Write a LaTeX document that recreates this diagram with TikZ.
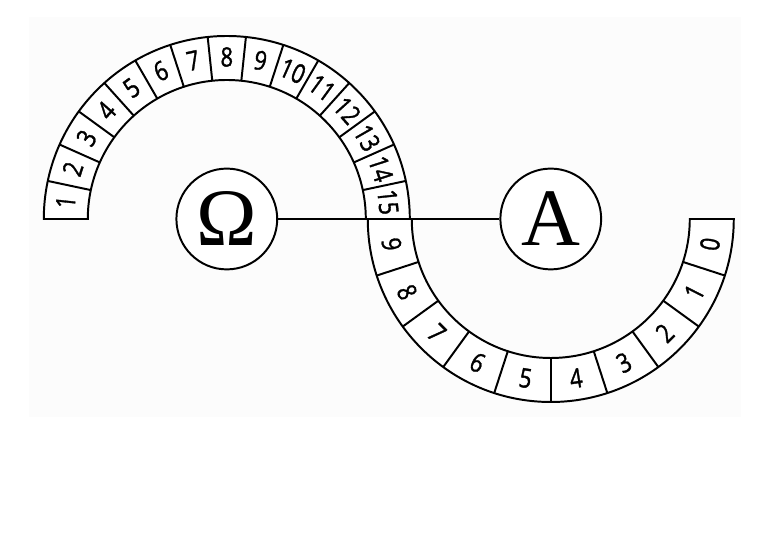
\documentclass[tikz,border=0pt]{standalone}
\usepackage{fontspec}
\setmainfont{Liberation Serif}
\newfontfamily\cellfont[FakeStretch=0.82, FakeBold=1.2]{Open Sans}
\usetikzlibrary{positioning}
\tikzset{
    band/.style={draw=black, line width=1.4pt, fill=white},
    tick/.style={draw=black, line width=1.4pt},
    cell/.style={font=\cellfont\fontsize{19}{19}\selectfont, inner sep=0pt},
    pole/.style={
        circle, draw=black, line width=1.4pt,
        minimum size=2.52cm, inner sep=0pt, fill=white,
        font=\fontsize{58}{58}\selectfont
    },
    axis/.style={draw=black, line width=1.1pt}
}
\begin{document}
\begin{tikzpicture}

% Frame
\useasboundingbox (0,0) rectangle (19.2,13.575);
\fill[black!1] (0.725,3.15) rectangle (18.525,13.15);

% Poles
\node[pole] (omega) at (5.67,8.1) {Ω};
\node[pole, right=5.53cm of omega] (alpha) {A};

% Upper band (1..15)
\draw[band] ([shift={(180:4.575)}]omega.center) arc[start angle=180, end angle=0, radius=4.575]
    -- ([shift={(0:3.475)}]omega.center) arc[start angle=0, end angle=180, radius=3.475] -- cycle;
\foreach \a in {168,156,...,12}
    \draw[tick] ([shift={(\a:3.475)}]omega.center) -- ([shift={(\a:4.575)}]omega.center);

% Lower band (9..0)
\draw[band] ([shift={(180:4.575)}]alpha.center) arc[start angle=180, end angle=360, radius=4.575]
    -- ([shift={(0:3.475)}]alpha.center) arc[start angle=360, end angle=180, radius=3.475] -- cycle;
\foreach \a in {198,216,...,342}
    \draw[tick] ([shift={(\a:3.475)}]alpha.center) -- ([shift={(\a:4.575)}]alpha.center);

% Upper labels
\node[cell, rotate=84] (u1) at ([shift={(174:4.05)}]omega.center) {1};
\node[cell, rotate=72] (u2) at ([shift={(162:4.05)}]omega.center) {2};
\node[cell, rotate=60] (u3) at ([shift={(150:4.05)}]omega.center) {3};
\node[cell, rotate=48] (u4) at ([shift={(138:4.05)}]omega.center) {4};
\node[cell, rotate=36] (u5) at ([shift={(126:4.05)}]omega.center) {5};
\node[cell, rotate=24] (u6) at ([shift={(114:4.05)}]omega.center) {6};
\node[cell, rotate=12] (u7) at ([shift={(102:4.05)}]omega.center) {7};
\node[cell, rotate=0] (u8) at ([shift={(90:4.05)}]omega.center) {8};
\node[cell, rotate=-12] (u9) at ([shift={(78:4.05)}]omega.center) {9};
\node[cell, rotate=-24] (u10) at ([shift={(66:4.05)}]omega.center) {10};
\node[cell, rotate=-36] (u11) at ([shift={(54:4.05)}]omega.center) {11};
\node[cell, rotate=-48] (u12) at ([shift={(42:4.05)}]omega.center) {12};
\node[cell, rotate=-60] (u13) at ([shift={(30:4.05)}]omega.center) {13};
\node[cell, rotate=-72] (u14) at ([shift={(18:4.05)}]omega.center) {14};
\node[cell, rotate=-84] (u15) at ([shift={(6:4.05)}]omega.center) {15};

% Lower labels
\node[cell, rotate=-81] (l9) at ([shift={(189:4.03)}]alpha.center) {9};
\node[cell, rotate=-63] (l8) at ([shift={(207:4.03)}]alpha.center) {8};
\node[cell, rotate=-45] (l7) at ([shift={(225:4.03)}]alpha.center) {7};
\node[cell, rotate=-27] (l6) at ([shift={(243:4.03)}]alpha.center) {6};
\node[cell, rotate=-9] (l5) at ([shift={(261:4.03)}]alpha.center) {5};
\node[cell, rotate=9] (l4) at ([shift={(279:4.03)}]alpha.center) {4};
\node[cell, rotate=27] (l3) at ([shift={(297:4.03)}]alpha.center) {3};
\node[cell, rotate=45] (l2) at ([shift={(315:4.03)}]alpha.center) {2};
\node[cell, rotate=63] (l1) at ([shift={(333:4.03)}]alpha.center) {1};
\node[cell, rotate=81] (l0) at ([shift={(351:4.03)}]alpha.center) {0};

% Axis
\draw[axis] (omega) -- (alpha);

\end{tikzpicture}
\end{document}
